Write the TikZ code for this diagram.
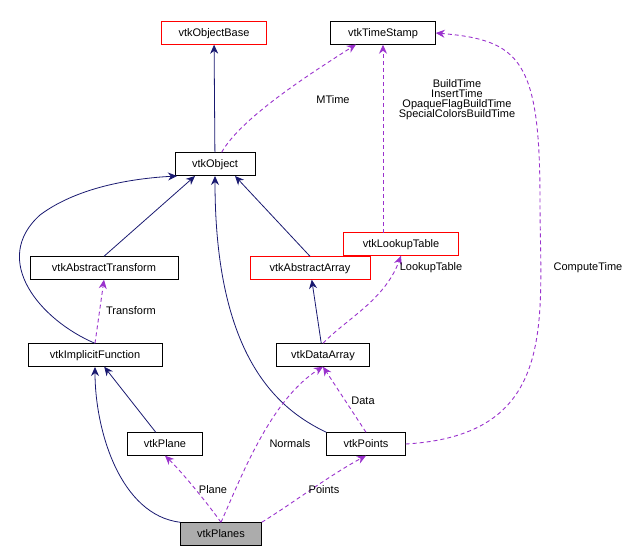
\documentclass[tikz,border=0pt]{standalone}
\usepackage{fontspec}
\setmainfont{Liberation Sans}
\usetikzlibrary{arrows.meta}
\definecolor{nv}{HTML}{191970}
\definecolor{pu}{HTML}{9A32CD}
\begin{document}
\begin{tikzpicture}[x=1pt,y=-1pt,
 box/.style={draw=black,fill=white,font=\fontsize{11}{12}\selectfont,inner sep=0pt,minimum height=23,text height=8,text depth=2},
 red/.style={box,draw=red},
 inh/.style={draw=nv,line width=0.8pt,-{Stealth[length=9pt,width=8pt]}},
 use/.style={draw=pu,line width=0.9pt,dashed,dash pattern=on 4pt off 3pt,-{Stealth[length=9pt,width=8pt]}},
 lbl/.style={font=\fontsize{11}{12}\selectfont,align=center,inner sep=1pt}]
\useasboundingbox (0,0) rectangle (638,557);
\node[red,minimum width=105] (ob) at (214,33) {vtkObjectBase};
\node[box,minimum width=105] (ts) at (383,33) {vtkTimeStamp};
\node[box,minimum width=80] (o) at (215,164) {vtkObject};
\node[red,minimum width=115] (lt) at (401,244) {vtkLookupTable};
\node[box,minimum width=148] (at) at (104,268) {vtkAbstractTransform};
\node[red,minimum width=120] (aa) at (310,268) {vtkAbstractArray};
\node[box,minimum width=134] (if) at (95,355) {vtkImplicitFunction};
\node[box,minimum width=93] (da) at (323,355) {vtkDataArray};
\node[box,minimum width=75] (pl) at (165,444) {vtkPlane};
\node[box,minimum width=79] (pt) at (366,444) {vtkPoints};
\node[box,fill=gray!65,minimum width=81] (ps) at (221,534) {vtkPlanes};
\coordinate (ltn) at (383,232.5);
\coordinate (tsm) at (356,44.5);

\draw[inh] (o) -- (ob);
\draw[inh] (at.north) -- (195,176);
\draw[inh] (aa.north) -- (235,176);
\draw[inh] (if.north) .. controls (40,320) and (-10,260) .. (40,215) .. controls (80,185) and (140,178) .. (177,176);
\draw[inh] (pt.north west) .. controls (280,410) and (215,360) .. (215,176);
\draw[inh] (da) -- (aa);
\draw[inh] (pl) -- (if);
\draw[inh] (ps.north west) .. controls (120,515) and (95,430) .. (95,367);

\draw[use] (o) .. controls (240,120) and (300,80) .. (tsm);
\node[lbl] at (333,100) {MTime};
\draw[use] (ltn) -- (ts.south);
\node[lbl] at (457,100) {BuildTime\\[-2pt]InsertTime\\[-2pt]OpaqueFlagBuildTime\\[-2pt]SpecialColorsBuildTime};
\draw[use] (if.north) -- (at.south);
\node[lbl] at (131,311) {Transform};
\draw[use] (da.north) .. controls (345,320) and (385,300) .. (lt.south);
\node[lbl] at (431,268) {LookupTable};
\draw[use] (ps.north) .. controls (240,480) and (270,400) .. (da.south);
\node[lbl] at (290,444) {Normals};
\draw[use] (ps.north) .. controls (205,500) and (180,470) .. (pl.south);
\node[lbl] at (213,490) {Plane};
\draw[use] (ps.north east) .. controls (290,505) and (330,475) .. (pt.south);
\node[lbl] at (324,490) {Points};
\draw[use] (pt.north) -- (da.south);
\node[lbl] at (363,401) {Data};
\draw[use] (pt.east) .. controls (560,435) and (540,320) .. (540,200) .. controls (540,60) and (520,40) .. (ts.east);
\node[lbl] at (588,268) {ComputeTime};
\end{tikzpicture}
\end{document}
